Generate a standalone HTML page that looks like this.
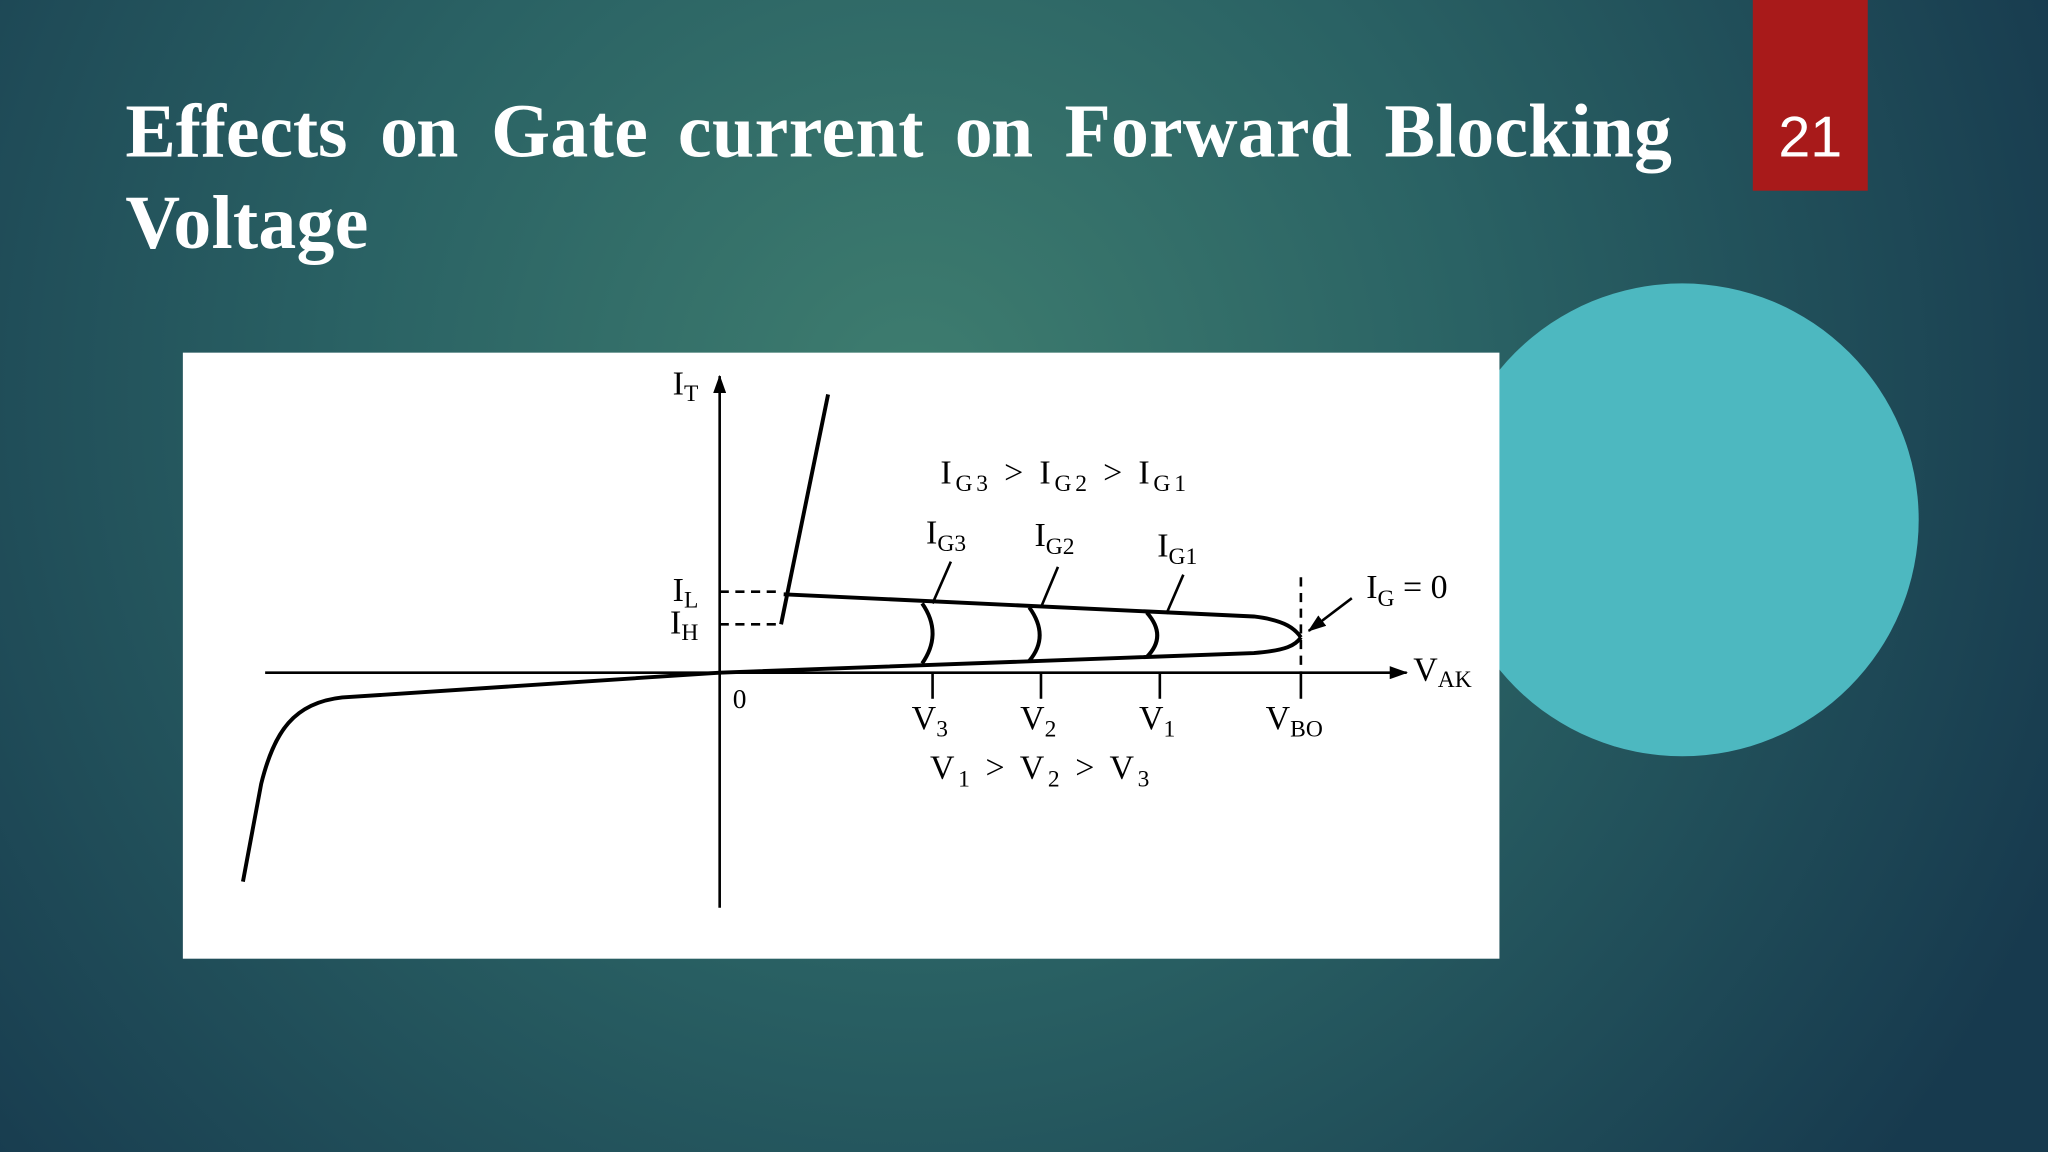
<!DOCTYPE html>
<html><head><meta charset="utf-8"><style>
html,body{margin:0;padding:0;width:2048px;height:1152px;overflow:hidden;background:#1f4a55}
</style></head><body>
<svg width="2048" height="1152" viewBox="0 0 1568 882" xmlns="http://www.w3.org/2000/svg">
<defs>
<radialGradient id="bg" cx="700" cy="300" r="950" gradientUnits="userSpaceOnUse">
<stop offset="0" stop-color="#3e7d6f"/><stop offset="0.45" stop-color="#2a6264"/><stop offset="1" stop-color="#173a4e"/>
</radialGradient>
<marker id="ah" markerWidth="14" markerHeight="10" refX="13" refY="5" orient="auto" markerUnits="userSpaceOnUse"><path d="M0,0 L14,5 L0,10 Z" fill="#000"/></marker>
</defs>
<rect width="1568" height="882" fill="url(#bg)"/>
<rect x="1342" y="0" width="88" height="146" fill="#a81a1a"/>
<text x="1386" y="120" fill="#fff" font-family="Liberation Sans, sans-serif" font-size="44" text-anchor="middle">21</text>
<circle cx="1288" cy="398" r="181" fill="#4db8c0"/>
<g font-family="Liberation Serif, serif" font-weight="bold" font-size="58" fill="#fff">
<text x="96" y="120" textLength="170">Effects</text>
<text x="291" y="120" textLength="60">on</text>
<text x="376" y="120" textLength="120">Gate</text>
<text x="519" y="120" textLength="188">current</text>
<text x="731" y="120" textLength="60">on</text>
<text x="815" y="120" textLength="220">Forward</text>
<text x="1060" y="120" textLength="220">Blocking</text>
<text x="96" y="190" textLength="186">Voltage</text>
</g>
<rect x="140" y="270" width="1008" height="464" fill="#fff"/>
<g stroke="#000" fill="none" stroke-width="2">
<line x1="551" y1="695" x2="551" y2="288" marker-end="url(#ah)"/>
<line x1="203" y1="515" x2="1077" y2="515" marker-end="url(#ah)"/>
<path d="M551,515 L262,534 C225,538 210,560 200,600 L186,675" stroke-width="3"/>
<path d="M551,515 L960,500 C985,498 992,494 996,488" stroke-width="3"/>
<path d="M600,455 L960,472 C985,475 992,482 996,488" stroke-width="3"/>
<path d="M598,478 L634,302" stroke-width="3"/>
<line x1="551" y1="453" x2="598" y2="453" stroke-dasharray="7,5"/>
<line x1="551" y1="478" x2="598" y2="478" stroke-dasharray="7,5"/>
<line x1="996" y1="442" x2="996" y2="515" stroke-dasharray="7,5"/>
<path d="M706,462 Q722,485 706,508" stroke-width="3"/>
<path d="M788,465 Q804,487 788,506" stroke-width="3"/>
<path d="M878,469 Q894,487 878,503" stroke-width="3"/>
<line x1="714" y1="515" x2="714" y2="535"/><line x1="797" y1="515" x2="797" y2="535"/>
<line x1="888" y1="515" x2="888" y2="535"/><line x1="996" y1="515" x2="996" y2="535"/>
<line x1="728" y1="430" x2="714" y2="462"/><line x1="810" y1="434" x2="797" y2="465"/><line x1="906" y1="440" x2="893" y2="470"/>
<line x1="1035" y1="458" x2="1002" y2="483" marker-end="url(#ah)"/>
</g>
<g font-family="Liberation Serif, serif" font-size="26" fill="#000">
<text x="515" y="302">I<tspan font-size="18" dy="5">T</tspan></text>
<text x="1082" y="521">V<tspan font-size="18" dy="5">AK</tspan></text>
<text x="515" y="460">I<tspan font-size="18" dy="5">L</tspan></text>
<text x="513" y="485">I<tspan font-size="18" dy="5">H</tspan></text>
<text x="561" y="542" font-size="21">0</text>
<text x="698" y="558">V<tspan font-size="18" dy="6">3</tspan></text>
<text x="781" y="558">V<tspan font-size="18" dy="6">2</tspan></text>
<text x="872" y="558">V<tspan font-size="18" dy="6">1</tspan></text>
<text x="969" y="558">V<tspan font-size="18" dy="6">BO</tspan></text>
<text x="712" y="596" textLength="168">V<tspan font-size="18" dy="6">1</tspan><tspan dy="-6"> &gt; V</tspan><tspan font-size="18" dy="6">2</tspan><tspan dy="-6"> &gt; V</tspan><tspan font-size="18" dy="6">3</tspan></text>
<text x="720" y="370" textLength="188">I<tspan font-size="18" dy="6">G3</tspan><tspan dy="-6"> &gt; I</tspan><tspan font-size="18" dy="6">G2</tspan><tspan dy="-6"> &gt; I</tspan><tspan font-size="18" dy="6">G1</tspan></text>
<text x="709" y="416">I<tspan font-size="18" dy="6">G3</tspan></text>
<text x="792" y="418">I<tspan font-size="18" dy="6">G2</tspan></text>
<text x="886" y="426">I<tspan font-size="18" dy="6">G1</tspan></text>
<text x="1046" y="458">I<tspan font-size="18" dy="6">G</tspan><tspan dy="-6"> = 0</tspan></text>
</g>
</svg>
</body></html>
